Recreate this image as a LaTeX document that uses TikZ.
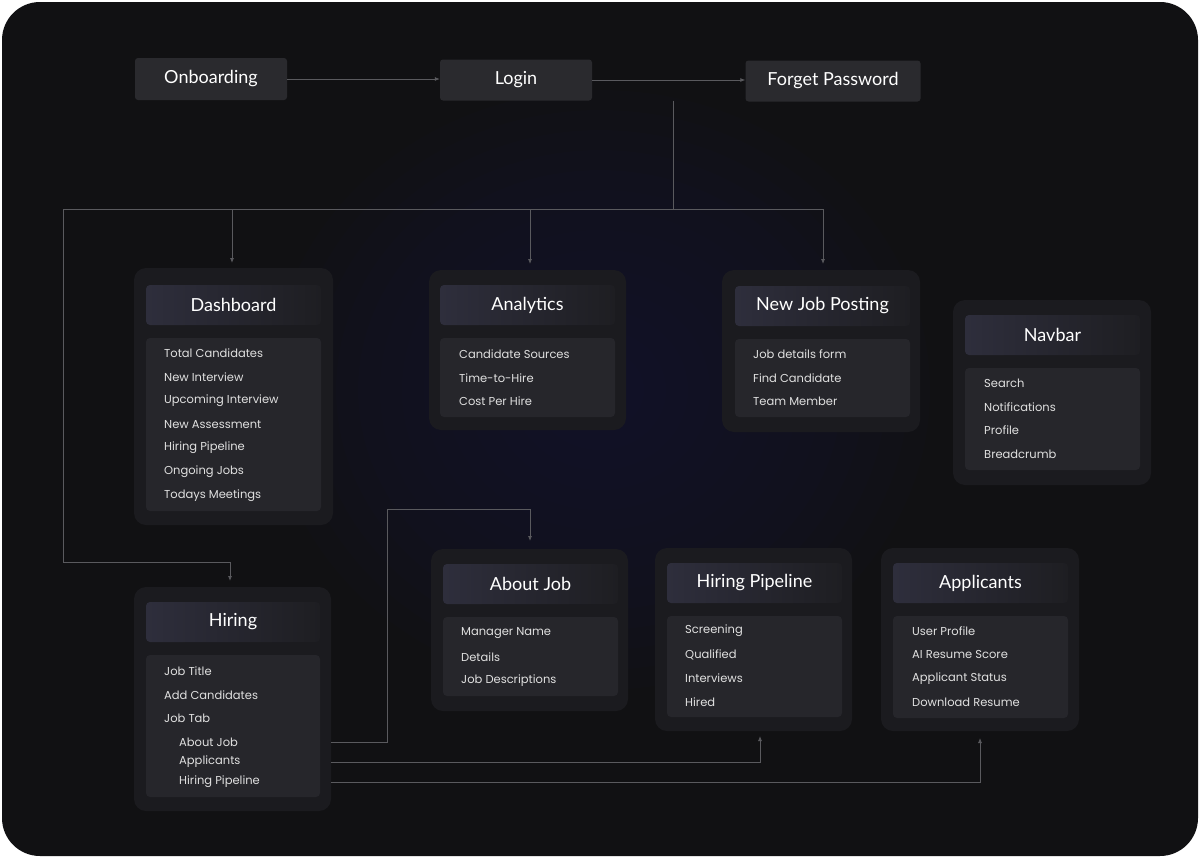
\documentclass[tikz,border=0pt]{standalone}
\usepackage{fontspec}
\setmainfont{Poppins}
\newfontfamily\titlefont{Lato}
\usetikzlibrary{positioning,arrows.meta,calc}
\definecolor{bgcol}{HTML}{111113}
\definecolor{cardcol}{HTML}{1B1B1F}
\definecolor{headL}{HTML}{2E2E3C}
\definecolor{headR}{HTML}{1E1E22}
\definecolor{listcol}{HTML}{26262B}
\definecolor{topcol}{HTML}{2A2A2E}
\definecolor{linecol}{HTML}{5A5A5E}
\definecolor{glowcol}{HTML}{1A1A55}
\tikzset{
  card/.style={fill=cardcol,rounded corners=12bp,inner sep=0pt},
  head/.style={left color=headL,right color=headR,rounded corners=4bp,inner sep=0pt},
  list/.style={fill=listcol,rounded corners=4bp,inner sep=0pt},
  title/.style={text=white,font=\titlefont\fontsize{18bp}{21bp}\selectfont},
  item/.style={anchor=west,text=white!88!black,inner sep=0pt,font=\fontsize{11.5bp}{13bp}\selectfont},
  top/.style={fill=topcol,rounded corners=3bp,inner sep=0pt,text=white,font=\titlefont\fontsize{18bp}{21bp}\selectfont},
  link/.style={draw=linecol,line width=0.8bp},
  arr/.style={link,-{Latex[length=5bp,width=4bp]}}
}
% box from (x1,y1) to (x2,y2), y downwards
\newcommand{\pbox}[6]{\path[#1] (#3bp,-#4bp) rectangle (#5bp,-#6bp);
  \coordinate (#2) at ($(#3bp,-#4bp)!0.5!(#5bp,-#6bp)$);}
\begin{document}
\begin{tikzpicture}
  \useasboundingbox (0,0) rectangle (1200bp,-858bp);
  \fill[bgcol,rounded corners=38bp] (2bp,-2bp) rectangle (1198bp,-856bp);
  \foreach \r in {300,280,...,20}
    \fill[glowcol,opacity=0.035] (600bp,-390bp) ellipse ({\r*1.1bp} and {\r bp});
  %% top row
  \node[top,minimum width=152bp,minimum height=42bp] (onb) at (211bp,-79bp) {Onboarding};
  \node[top,minimum width=152bp,minimum height=41bp] (login) at (516bp,-80bp) {Login};
  \node[top,minimum width=175bp,minimum height=41bp] (forget) at (833bp,-81bp) {Forget Password};
  \draw[arr] (onb.east |- 0,-79bp) -- (login.west |- 0,-79bp);
  \draw[arr] (login.east) -- (forget.west |- login.east);
  %% cards
  % Node: dashboard
  \pbox{card}{dashC}{134}{268}{333}{525}
  \pbox{head}{dashH}{146}{285}{321}{325}
  \pbox{list}{dashL}{146}{338}{321}{511}
  \node[title] (dash) at (dashH) {Dashboard};
  \foreach \t [count=\i] in {Total Candidates,New Interview,Upcoming Interview,New Assessment,Hiring Pipeline,Ongoing Jobs,Todays Meetings}
    \node[item] (dash\i) at (164bp,{-353bp-(\i-1)*23.7bp}) {\t};
  % Node: analytics
  \pbox{card}{anaC}{429}{270}{626}{430}
  \pbox{head}{anaH}{440}{285}{615}{325}
  \pbox{list}{anaL}{440}{338}{615}{417}
  \node[title] (ana) at (anaH) {Analytics};
  \foreach \t [count=\i] in {Candidate Sources,Time-to-Hire,Cost Per Hire}
    \node[item] (ana\i) at (459bp,{-354bp-(\i-1)*23.7bp}) {\t};
  % Node: job posting
  \pbox{card}{postC}{722}{270}{920}{432}
  \pbox{head}{postH}{735}{286}{910}{326}
  \pbox{list}{postL}{735}{339}{910}{417}
  \node[title] (post) at (postH) {New Job Posting};
  \foreach \t [count=\i] in {Job details form,Find Candidate,Team Member}
    \node[item] (post\i) at (753bp,{-354bp-(\i-1)*23.7bp}) {\t};
  % Node: navbar
  \pbox{card}{navC}{953}{300}{1151}{485}
  \pbox{head}{navH}{965}{315}{1140}{355}
  \pbox{list}{navL}{965}{368}{1140}{470}
  \node[title] (nav) at (navH) {Navbar};
  \foreach \t [count=\i] in {Search,Notifications,Profile,Breadcrumb}
    \node[item] (nav\i) at (984bp,{-383bp-(\i-1)*23.7bp}) {\t};
  % Node: hiring
  \pbox{card}{hirC}{134}{587}{331}{811}
  \pbox{head}{hirH}{146}{602}{320}{642}
  \pbox{list}{hirL}{146}{655}{320}{797}
  \node[title] (hir) at (hirH) {Hiring};
  \foreach \t [count=\i] in {Job Title,Add Candidates,Job Tab}
    \node[item] (hir\i) at (164bp,{-671bp-(\i-1)*23.7bp}) {\t};
  \node[item] (hjAbout) at (179bp,-742bp) {About Job};
  \node[item] (hjApp) at (179bp,-762bp) {Applicants};
  \node[item] (hjPipe) at (179bp,-782bp) {Hiring Pipeline};
  % Node: about job
  \pbox{card}{aboutC}{431}{549}{628}{711}
  \pbox{head}{aboutH}{443}{564}{618}{604}
  \pbox{list}{aboutL}{443}{617}{618}{696}
  \node[title] (about) at (aboutH) {About Job};
  \foreach \t [count=\i] in {Manager Name,Details,Job Descriptions}
    \node[item] (about\i) at (461bp,{-633bp-(\i-1)*23.7bp}) {\t};
  % Node: pipeline
  \pbox{card}{pipeC}{655}{548}{852}{731}
  \pbox{head}{pipeH}{667}{563}{842}{603}
  \pbox{list}{pipeL}{667}{616}{842}{717}
  \node[title] (pipe) at (pipeH) {Hiring Pipeline};
  \foreach \t [count=\i] in {Screening,Qualified,Interviews,Hired}
    \node[item] (pipe\i) at (685bp,{-631bp-(\i-1)*23.7bp}) {\t};
  % Node: applicants
  \pbox{card}{appC}{881}{548}{1079}{731}
  \pbox{head}{appH}{893}{563}{1068}{603}
  \pbox{list}{appL}{893}{616}{1068}{718}
  \node[title] (app) at (appH) {Applicants};
  \foreach \t [count=\i] in {User Profile,AI Resume Score,Applicant Status,Download Resume}
    \node[item] (app\i) at (912bp,{-631bp-(\i-1)*23.7bp}) {\t};
  %% connectors
  \coordinate (split) at (673bp,-209bp);
  \coordinate (west) at (63bp,-209bp);
  \draw[link] (login.south -| split) -- (split);
  \draw[link] (west) -- (823bp,-209bp);
  \draw[arr] (232bp,-209bp) -- (232bp,-263bp);
  \draw[arr] (530bp,-209bp) -- (530bp,-264bp);
  \draw[arr] (823bp,-209bp) -- (823bp,-264bp);
  \draw[arr] (west) |- (230bp,-562bp) -- (230bp,-581bp);
  \draw[arr] (331bp,-742bp) -- (387bp,-742bp) |- (530bp,-509bp) -- (530bp,-541bp);
  \draw[arr] (331bp,-762bp) -| (760bp,-736bp);
  \draw[arr] (331bp,-782bp) -| (980bp,-738bp);
\end{tikzpicture}
\end{document}
